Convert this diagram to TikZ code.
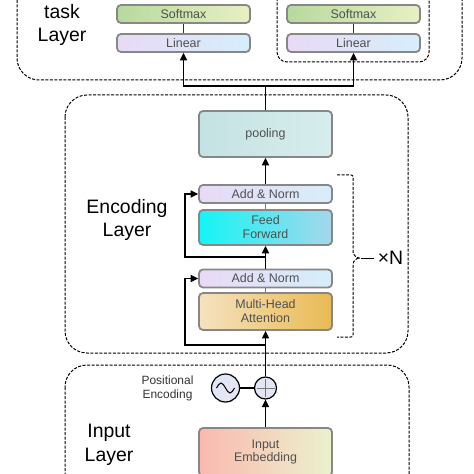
\documentclass[tikz,border=0pt]{standalone}
\usepackage{fontspec}
\setmainfont{Liberation Sans}
\usepackage{tikz}
\usetikzlibrary{shapes.geometric, arrows.meta, positioning}
\definecolor{boxgray}{RGB}{135,135,135}
\definecolor{textgray}{RGB}{80,80,80}
\definecolor{tiegray}{RGB}{120,120,120}
\definecolor{softL}{RGB}{183,217,158}
\definecolor{softR}{RGB}{232,240,196}
\definecolor{linL}{RGB}{232,218,245}
\definecolor{linR}{RGB}{214,238,250}
\definecolor{poolL}{RGB}{196,226,226}
\definecolor{poolR}{RGB}{216,237,237}
\definecolor{ffL}{RGB}{20,245,245}
\definecolor{ffR}{RGB}{165,215,235}
\definecolor{mhaL}{RGB}{246,226,192}
\definecolor{mhaR}{RGB}{232,186,82}
\definecolor{embL}{RGB}{250,185,175}
\definecolor{embR}{RGB}{235,242,205}
\definecolor{roundfill}{RGB}{226,230,245}
\tikzstyle{block} = [rectangle, rounded corners=4bp, minimum width=133bp, inner sep=0pt, draw=boxgray, line width=1.8bp, text=textgray, align=center, font=\fontsize{12.5}{14}\selectfont]
\tikzstyle{slim} = [block, minimum height=18bp]
\tikzstyle{group} = [draw=black, line width=1bp, dash pattern=on 3bp off 1.5bp, rounded corners=22bp]
\tikzstyle{title} = [align=center, font=\fontsize{19.5}{24}\selectfont]
\tikzstyle{note} = [align=center, text=black!80, font=\fontsize{12}{14}\selectfont]
\tikzstyle{roundel} = [circle, inner sep=0pt, draw=black, line width=1.2bp, fill=roundfill]
\tikzstyle{arrow} = [line width=1.4bp, -{Triangle[length=7.5bp,width=7bp]}]
\tikzstyle{link} = [line width=1.4bp, -]
\tikzstyle{tie} = [line width=1bp, draw=tiegray]

\begin{document}
\begin{tikzpicture}[x=1bp, y=-1bp, node distance=30bp]
\useasboundingbox (0,0) rectangle (474,474);
\clip (0,0) rectangle (474,474);
% dashed groups
\draw [group] (17,-40) rectangle (462,80);
\draw [group, rounded corners=10bp] (277,-30) rectangle (429,62);
\draw [group] (65,95) rectangle (408,353);
\draw [group] (65,365) rectangle (409,520);
% input layer
\node (embed) [block, minimum height=48bp, left color=embL, right color=embR] at (265.5,452) {Input\\Embedding};
\node (plus) [roundel, minimum size=22bp, above of=embed, node distance=64bp] {};
\node (wave) [roundel, minimum size=28bp, left of=plus, node distance=40bp] {};
\node (pe) [note, left of=wave, node distance=58bp] {Positional\\Encoding};
% encoding layer
\node (mha) [block, minimum height=37bp, left color=mhaL, right color=mhaR, above of=plus, node distance=76.5bp] {Multi-Head\\Attention};
\node (an1) [slim, left color=linL, right color=linR, above of=mha, node distance=33bp] {Add \& Norm};
\node (ff) [block, minimum height=35bp, left color=ffL, right color=ffR, above of=an1, node distance=51bp] {Feed\\Forward};
\node (an2) [slim, left color=linL, right color=linR, above of=ff, node distance=33.5bp] {Add \& Norm};
\node (pool) [block, minimum height=46bp, left color=poolL, right color=poolR, above of=an2, node distance=60bp] {pooling};
% task layer
\node (lin1) [slim, left color=linL, right color=linR] at (183.5,43) {Linear};
\node (soft1) [slim, left color=softL, right color=softR, above of=lin1, node distance=29bp] {Softmax};
\node (lin2) [slim, left color=linL, right color=linR, right of=lin1, node distance=170bp] {Linear};
\node (soft2) [slim, left color=softL, right color=softR, above of=lin2, node distance=29bp] {Softmax};
% titles
\node (task) [title] at (62,25) {task\\Layer};
\node (enc) [title] at (127,220) {Encoding\\Layer};
\node (inp) [title] at (109,445) {Input\\Layer};
\node (times) [title] at (390.5,258) {×N};
% symbols in the circles
\draw [line width=1bp] ([xshift=-9bp]wave.center) sin ++(4.5,-5) cos ++(4.5,5) sin ++(4.5,5) cos ++(4.5,-5);
\draw [tie] ([yshift=-9bp]plus.center) -- ([yshift=9bp]plus.center) ([xshift=-9bp]plus.center) -- ([xshift=9bp]plus.center);
% main flow
\draw [arrow] (embed) -- (plus);
\draw [link] (wave) -- (plus);
\draw [arrow] (plus) -- (mha);
\draw [tie] (mha) -- (an1);
\draw [arrow] (an1) -- (ff);
\draw [tie] (ff) -- (an2);
\draw [arrow] (an2) -- (pool);
\coordinate (split) at (265.5,86);
\draw [link] (pool) -- (split);
\draw [arrow] (split) -| (lin1);
\draw [arrow] (split) -| (lin2);
\draw [tie, draw=black!80] (lin1) -- (soft1);
\draw [tie, draw=black!80] (lin2) -- (soft2);
% residuals
\coordinate (res1) at (265.5,345);
\coordinate (res2) at (265.5,257);
\draw [arrow] (res1) -| ([xshift=-13bp]an1.west) -- (an1);
\draw [arrow] (res2) -| ([xshift=-13bp]an2.west) -- (an2);
% repeat bracket
\coordinate (tip) at (361,258);
\draw [group, rounded corners=2bp] (337,175) -- (353,175) -- (353,250) to[out=-90, in=180] (tip) to[out=180, in=90] (353,266) -- (353,337) -- (337,337);
\draw [line width=1bp] (tip) -- (times);
\end{tikzpicture}
\end{document}
